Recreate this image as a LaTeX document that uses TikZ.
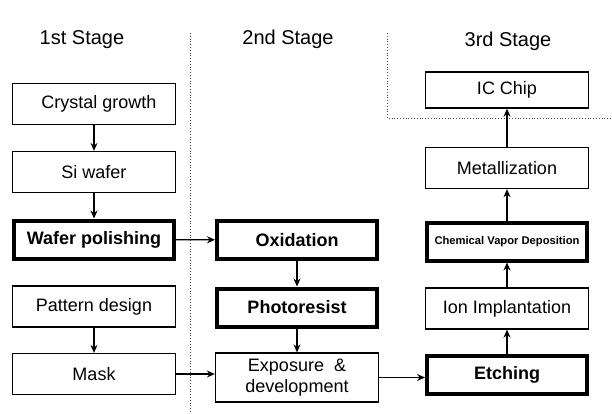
\documentclass[tikz,border=0pt]{standalone}
\usepackage{fontspec}
\setmainfont{Liberation Sans}
\usepackage{tikz}
\usetikzlibrary{arrows.meta,shapes}

\begin{document}
\begin{tikzpicture}[->,>={Stealth[length=8pt,width=7pt]},x=1pt,y=-1pt,
                    line width=1.2pt]
  \tikzstyle{stepbox}=[rectangle,
                                    draw=black,
                                    line width=1.3pt,
                                    minimum width=163pt,
                                    minimum height=41pt,
                                    font=\fontsize{18}{21}\selectfont]
  \tikzstyle{keybox}=[rectangle,
                                    draw=black,
                                    line width=4pt,
                                    minimum width=160pt,
                                    minimum height=38pt,
                                    font=\bfseries\fontsize{18}{21}\selectfont]
  \tikzstyle{stagelabel}=[anchor=base,font=\fontsize{20}{24}\selectfont]
  \tikzstyle{divider}=[-,dotted,line width=0.8pt,black!75]
  \useasboundingbox (0,0) rectangle (612,413);
  %Etapas
  \node[stagelabel] (s1) at (82,44) {1st Stage};
  \node[stagelabel] (s2) at (288,44) {2nd Stage};
  \node[stagelabel] (s3) at (508,46) {3rd Stage};
  \draw[divider] (190,33) -- (190,413);
  \draw[divider] (387,33) -- (387,118) -- (612,118);
  %Cajas etapa 1
  \node[stepbox] (cg) at (94,104) {\hspace{10pt}Crystal growth};
  \node[stepbox] (si) at (94,172) {Si wafer};
  \node[keybox]  (wp) at (94,239.5) {Wafer polishing};
  \node[stepbox] (pd) at (94,306.5) {Pattern design};
  \node[stepbox] (mask) at (94,374) {Mask};
  %Cajas etapa 2
  \node[keybox]  (oxi) at (297,240) {Oxidation};
  \node[keybox]  (photo) at (297,307.5) {Photoresist};
  \node[stepbox,minimum height=49pt,align=center,
        font=\fontsize{18}{21}\selectfont] (expo) at (297,377.5)
        {Exposure \ \&\\development};
  %Cajas etapa 3
  \node[stepbox,minimum height=36pt] (ic) at (507,90) {IC Chip};
  \node[stepbox] (metal) at (507,168) {Metallization};
  \node[keybox,font=\bfseries\fontsize{11.2}{13}\selectfont] (cvd) at (507,241.5)
        {Chemical Vapor Deposition};
  \node[stepbox] (ion) at (507,308.5) {Ion Implantation};
  \node[keybox]  (etch) at (507,375) {Etching};
    \path (cg) edge (si)
          (si) edge (wp)
          (pd) edge (mask)
          (wp) edge (oxi)
          (oxi) edge (photo)
          (photo) edge (expo)
          (mask.east) edge (mask -| expo.west)
          (expo.east) edge (expo -| etch.west)
          (etch) edge (ion)
          (ion) edge (cvd)
          (cvd) edge (metal)
          (metal) edge (ic);
\end{tikzpicture}
\end{document}
